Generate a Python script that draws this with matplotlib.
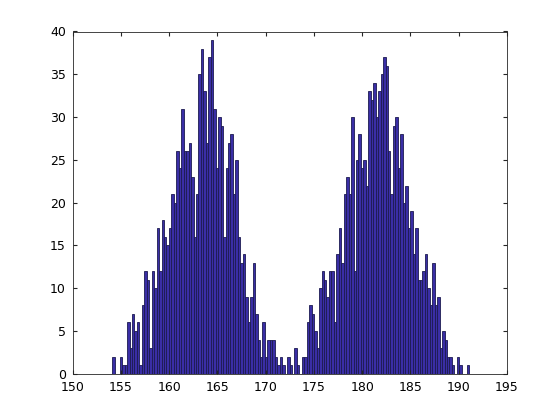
import numpy as np
import matplotlib
matplotlib.use("Agg")
import matplotlib.pyplot as plt

# histogram counts, left hump / gap / right hump
left_counts = [2, 0, 0, 2, 1, 1, 6, 3, 7, 5, 6, 1, 8, 12, 11, 3, 12, 10, 17, 12,
               18, 16, 15, 17, 21, 20, 26, 24, 31, 26, 26, 27, 23, 16, 21, 35, 38, 33, 27, 37,
               39, 31, 24, 30, 29, 16, 24, 27, 28, 21, 25, 16, 13, 14, 9, 6, 9, 13, 7, 4,
               2, 6, 2, 4, 4, 4, 2, 1, 2]
gap_counts = [1, 0, 2, 1, 0, 3, 1, 0, 2, 2]
right_counts = [6, 8, 7, 5, 3, 10, 12, 11, 9, 12, 12, 6, 14, 17, 13, 21, 23, 21, 30, 12,
                25, 28, 24, 25, 22, 33, 32, 34, 30, 33, 35, 37, 36, 26, 21, 29, 30, 24, 28, 20,
                22, 17, 19, 14, 17, 11, 11, 12, 14, 10, 8, 13, 8, 9, 3, 5, 4, 2, 2, 1,
                0, 2, 1, 0, 0, 1]
x_start, x_end = 154.1, 191.1
x_ticks = [150, 155, 160, 165, 170, 175, 180, 185, 190, 195]
y_ticks = [0, 5, 10, 15, 20, 25, 30, 35, 40]

counts = np.array(left_counts + gap_counts + right_counts)
edges = np.linspace(x_start, x_end, len(counts) + 1)
width = edges[1] - edges[0]

fig = plt.figure(figsize=(5.6, 4.2), dpi=100)
ax = fig.add_axes([0.13, 0.11, 0.775, 0.815])
ax.bar(edges[:-1], counts, width=width, align="edge",
       facecolor="#3a2ea6", edgecolor="#1c1a50", linewidth=0.6)
ax.set_xlim(150, 195)
ax.set_ylim(0, 40)
ax.set_xticks(x_ticks)
ax.set_yticks(y_ticks)
ax.tick_params(direction="in", labelsize=9, length=3, top=True, right=True,
               labeltop=False, labelright=False, color="#262626", pad=5)
for s in ax.spines.values():
    s.set_color("#262626")
    s.set_linewidth(0.6)
fig.savefig("out.png", dpi=100)
